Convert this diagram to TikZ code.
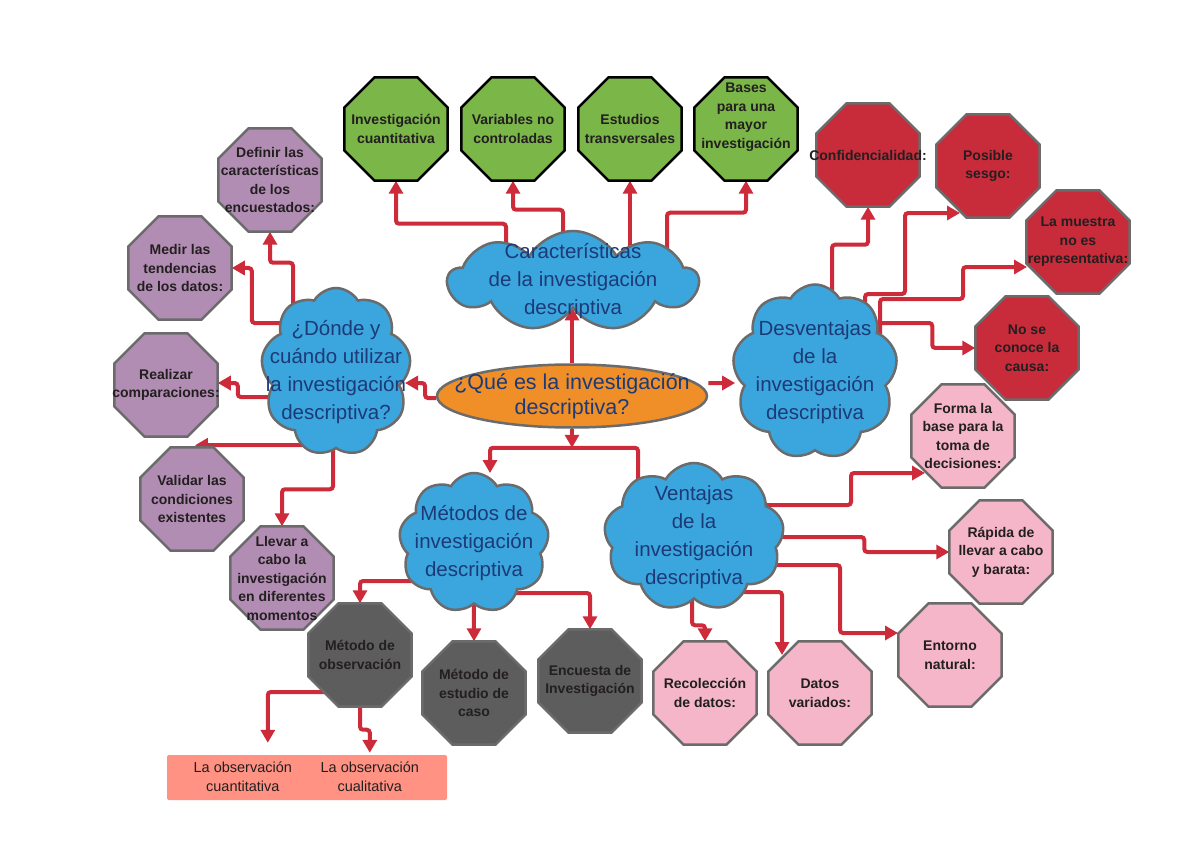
\documentclass[tikz,border=0pt]{standalone}
\usepackage{fontspec}
\setmainfont{Liberation Sans}
\usetikzlibrary{shapes.geometric,shapes.symbols,arrows.meta,calc}
\definecolor{cloudblue}{HTML}{3BA6DD}
\definecolor{navy}{HTML}{1C3A78}
\definecolor{queorange}{HTML}{F08F28}
\definecolor{octgreen}{HTML}{7AB648}
\definecolor{octred}{HTML}{C82B3A}
\definecolor{octpink}{HTML}{F4B6C8}
\definecolor{octpurple}{HTML}{B28DB3}
\definecolor{octgray}{HTML}{5D5D5D}
\definecolor{connred}{HTML}{CD2A3A}
\definecolor{salmon}{HTML}{FF9282}
\definecolor{edgegray}{HTML}{6B6B6B}
\definecolor{octtext}{HTML}{231F20}
\pgfdeclarelayer{bg}
\pgfsetlayers{bg,main}
\tikzset{
  octa/.style={regular polygon, regular polygon sides=8, minimum size=112pt, inner sep=-16pt,
    outer sep=0pt, line width=2.5pt, draw=edgegray, align=center, text=octtext,
    font=\bfseries\fontsize{14}{18.5}\selectfont},
  nube/.style={cloud, cloud puffs=9, cloud puff arc=120, cloud ignores aspect, draw=edgegray,
    line width=2.5pt, fill=cloudblue, text=navy, inner sep=-22pt, outer sep=0pt, align=center,
    font=\fontsize{20.5}{27.8}\selectfont},
  conn/.style={draw=connred, line width=4pt, rounded corners=3pt, -{Triangle[width=14pt,length=13pt]}},
  plain/.style={draw=connred, line width=4pt, rounded corners=3pt},
}
\begin{document}
\begin{tikzpicture}[x=1pt,y=-1pt]
\useasboundingbox (0,0) rectangle (1200,848);

\node[ellipse, draw=edgegray, line width=2.5pt, fill=queorange, text=navy, minimum width=270pt,
  minimum height=63pt, inner xsep=-40pt, inner ysep=-10pt, align=center,
  font=\fontsize{21.5}{25}\selectfont] (que) at (572,396) {¿Qué es la investigación\\descriptiva?};

% nubes
\node[nube, minimum width=250pt, minimum height=100pt] (carac) at (573,281) {Características\\de la investigación\\descriptiva};
\node[nube, minimum width=150pt, minimum height=168pt] (donde) at (336,372) {¿Dónde y\\cuándo utilizar\\la investigación\\descriptiva?};
\node[nube, minimum width=165pt, minimum height=175pt] (desv) at (815,372) {Desventajas\\de la\\investigación\\descriptiva};
\node[nube, minimum width=150pt, minimum height=140pt] (metod) at (474,543) {Métodos de\\investigación\\descriptiva};
\node[nube, minimum width=180pt, minimum height=148pt] (vent) at (694,537) {Ventajas\\de la\\investigación\\descriptiva};

% caracteristicas
\node[octa, fill=octgreen, draw=black] (invcuan) at (396,129) {Investigación\\cuantitativa};
\node[octa, fill=octgreen, draw=black] (varnc) at (513,129) {Variables no\\controladas};
\node[octa, fill=octgreen, draw=black] (esttr) at (630,129) {Estudios\\transversales};
\node[octa, fill=octgreen, draw=black] (bases) at (746,129) {Bases\\para una\\mayor\\investigación\\[8pt]\mbox{}};

% desventajas
\node[octa, fill=octred, inner xsep=-30pt] (confid) at (868,155) {Confidencialidad:};
\node[octa, fill=octred] (sesgo) at (988,166) {Posible\\sesgo:};
\node[octa, fill=octred] (muestra) at (1078,242) {La muestra\\no es\\representativa:};
\node[octa, fill=octred] (causa) at (1027,348) {No se\\conoce la\\causa:};

% ventajas
\node[octa, fill=octpink] (forma) at (963,436) {Forma la\\base para la\\toma de\\decisiones:};
\node[octa, fill=octpink] (rapida) at (1001,552) {Rápida de\\llevar a cabo\\y barata:};
\node[octa, fill=octpink] (entorno) at (950,655) {Entorno\\natural:};
\node[octa, fill=octpink] (recol) at (705,693) {Recolección\\de datos:};
\node[octa, fill=octpink] (datosv) at (820,693) {Datos\\variados:};

% donde y cuando
\node[octa, fill=octpurple] (definir) at (270,180) {Definir las\\características\\de los\\encuestados:};
\node[octa, fill=octpurple] (medir) at (180,268) {Medir las\\tendencias\\de los datos:};
\node[octa, fill=octpurple, inner xsep=-22pt] (realizar) at (166,385) {Realizar\\comparaciones:};
\node[octa, fill=octpurple] (validar) at (192,499) {Validar las\\condiciones\\existentes};
\node[octa, fill=octpurple] (llevar) at (282,578) {Llevar a\\cabo la\\investigación\\en diferentes\\momentos};

% metodos
\node[octa, fill=octgray] (obsmet) at (360,655) {Método de\\observación};
\node[octa, fill=octgray] (estcaso) at (474,693) {Método de\\estudio de\\caso};
\node[octa, fill=octgray] (encuesta) at (590,681) {Encuesta de\\Investigación};

\node[fill=salmon, rounded corners=2pt, minimum width=280pt, minimum height=45pt, inner sep=0pt] (obsbox) at (307,777.5) {};
\node[align=center, text=octtext, font=\fontsize{14.5}{18.5}\selectfont] (obscuan) at ($(obsbox.west)+(76,-1)$) {La observación\\cuantitativa};
\node[align=center, text=octtext, font=\fontsize{14.5}{18.5}\selectfont] (obscual) at ($(obsbox.west)+(203,-1)$) {La observación\\cualitativa};

\coordinate (split) at ($(que.south)+(0,19)$);

\begin{pgfonlayer}{bg}
\draw[conn] (que.north) -- (que.north |- carac.south);
\draw[conn] ($(que.east)+(0,-13)$) -- ($(desv.west)+(0,11)$);
\draw[conn] ($(que.west)+(0,2)$) -| ($(donde)+(89,11)$) -- ($(donde)+(69,11)$);
\draw[conn] (que.south) -- (split);
\draw[conn] (split) -| ($(metod.north)+(16,0)$);
\draw[plain] (split) -| ($(vent)+(-56,0)$);

\draw[conn] ($(carac)+(-67,0)$) |- ($(invcuan.south)+(0,43)$) -- (invcuan.south);
\draw[conn] ($(carac)+(-10,0)$) |- ($(varnc.south)+(0,29)$) -- (varnc.south);
\draw[conn] (carac.center -| esttr.south) -- (esttr.south);
\draw[conn] ($(carac)+(94,0)$) |- ($(bases.south)+(0,32)$) -- (bases.south);

\draw[conn] ($(desv)+(17,0)$) |- ($(confid.south)+(0,38)$) -- (confid.south);
\draw[conn] ($(desv)+(50,0)$) |- ++(40,-78) |- ($(sesgo)+(-28,47)$);
\draw[conn] ($(desv)+(65,0)$) |- ++(83,-73) |- ($(muestra)+(-51,25)$);
\draw[conn] ($(desv)+(50,-49)$) -| ($(causa.west)+(-43,0)$) -- (causa.west);

\draw[conn] ($(donde)+(-43,0)$) -- ($(definir.south)+(23,31)$) -| (definir.south);
\draw[conn] ($(donde)+(-40,-49)$) -| ($(medir.east)+(20,0)$) -- (medir.east);
\draw[conn] ($(donde)+(-50,25)$) -| ($(realizar.east)+(20,-2)$) -- ($(realizar.east)+(0,-2)$);
\draw[conn] ($(donde)+(-30,73)$) -- ($(validar.north)+(3,-2)$);
\draw[conn] ($(donde)+(-3,0)$) -- ($(llevar.north)+(51,-37)$) -| (llevar.north);

\draw[conn] ($(metod)+(-45,38)$) -| (obsmet.north);
\draw[conn] (metod) -- (estcaso.north);
\draw[conn] ($(metod)+(40,50)$) -| (encuesta.north);

\draw[conn] ($(vent)+(60,-32)$) -| ($(forma)+(-112,37)$) -- ($(forma)+(-38,37)$);
\draw[conn] ($(vent)+(60,0)$) -| ($(rapida.west)+(-85,0)$) -- (rapida.west);
\draw[conn] ($(vent)+(60,28)$) -| ($(entorno)+(-110,-22)$) -- ($(entorno)+(-52,-22)$);
\draw[conn] ($(vent)+(-2,0)$) -- ($(recol.north)+(-13,-16)$) -| (recol.north);
\draw[conn] ($(vent)+(40,55)$) -| ($(datosv)+(-38,-38)$);

\draw[conn] ($(obsmet)+(-35,37)$) -| ($(obsbox.north west)+(101,-12)$);
\draw[conn] (obsmet.south) -- ++(0,23) -| ($(obsbox.north west)+(203,-2)$);
\end{pgfonlayer}
\end{tikzpicture}
\end{document}
